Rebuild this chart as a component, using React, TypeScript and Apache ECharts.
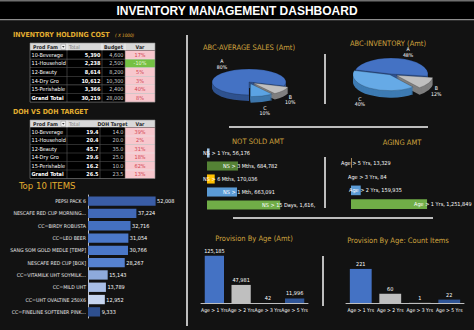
import React, { useEffect, useRef } from "react";
import * as echarts from "echarts";

const FONT = "'Liberation Sans Narrow', 'DejaVu Sans Condensed', Roboto, sans-serif";
const GOLD = "#e3ae30";
const GOLD2 = "#cda23e";

// ---------- tables ----------
const costHeaders = ["Prod Fam", "Total", "Budget", "Var"];
const costFam = ["10-Beverage", "11-Household", "12-Beauty", "14-Dry Gro", "15-Perishable", "Grand Total"];
const costTotal = [5390, 2238, 8614, 10612, 3366, 30219];
const costBudget = [4600, 2500, 8200, 10300, 2400, 28000];
const costVar = ["17%", "-10%", "5%", "3%", "40%", "8%"];

const dohHeaders = ["Prod Fam", "Total", "DOH Target", "Var"];
const dohFam = ["10-Beverage", "11-Household", "12-Beauty", "14-Dry Gro", "15-Perishable", "Grand Total"];
const dohTotal = [19.4, 20.4, 45.7, 29.6, 16.2, 26.5];
const dohTarget = [14.0, 20.0, 35.0, 25.0, 10.0, 23.5];
const dohVar = ["39%", "2%", "31%", "18%", "62%", "13%"];

// ---------- top 10 ----------
const topItems = [
  "PEPSI PACK 6",
  "NESCAFE RED CUP MORNING...",
  "CC=BIRDY ROBUSTA",
  "CC=LEO BEER",
  "SANG SOM GOLD MEDLE [TEMP]",
  "NESCAFE RED CUP [BOX]",
  "CC=VITAMILK UHT SOYMILK...",
  "CC=MILD UHT",
  "CC=UHT OVALTINE 250X6",
  "CC=FINELINE SOFTENER PINK...",
];
const topValues = [52008, 37224, 32716, 31054, 30766, 28267, 15143, 13789, 12952, 9333];
const topColors = ["#3a5da6", "#4169b8", "#4470c0", "#4b78c9", "#4b78c9", "#5682d0", "#8eaadb", "#a8bee6", "#c6d5ef", "#2e4f8e"];

// ---------- pies ----------
const abcNames = ["A", "B", "C"];
const salesPct = [80, 10, 10];
const invPct = [48, 12, 40];

// ---------- not sold ----------
const nsCats = ["NS > 1 Yrs", "NS > 3 Mths", "NS > 6 Mths", "NS > 1 Mth", "NS > 15 Days"];
const nsValues = [56176, 684782, 170036, 663091, 1616450];
const nsColors = ["#9dc3e6", "#548235", "#ffc000", "#5b9bd5", "#70ad47"];
const nsLabelDx = [-4, 16, -4, 16, 55];

// ---------- aging ----------
const agCats = ["Age > 5 Yrs", "Age > 3 Yrs", "Age > 2 Yrs", "Age > 1 Yrs"];
const agValues = [13329, 84, 159935, 1251849];
const agColors = ["#c6a26a", "#d8b25a", "#5b9bd5", "#70ad47"];
const agLabelDx = [-10, -3, -2, 63];

// ---------- provision ----------
const provCats = ["Age > 1 Yrs", "Age > 2 Yrs", "Age > 3 Yrs", "Age > 5 Yrs"];
const provAmt = [125185, 47981, 42, 11996];
const provCnt = [221, 60, 1, 22];
const provColors = ["#4472c4", "#bfbfbf", "#a5a5a5", "#2f5597"];

const fmt = (v: number) => v.toLocaleString("en-US");

function txt(x: number, y: number, text: string, o: any = {}) {
  return {
    type: "text",
    x,
    y,
    style: {
      text,
      fill: o.fill || "#fff",
      fontSize: o.size || 5.5,
      fontWeight: o.bold ? "bold" : "normal",
      fontStyle: o.italic ? "italic" : "normal",
      fontFamily: o.font || FONT,
      align: o.align || "left",
      verticalAlign: "middle",
    },
    z: 5,
  };
}
function rect(x: number, y: number, w: number, h: number, fill: string, extra: any = {}) {
  return { type: "rect", shape: { x, y, width: w, height: h }, style: { fill, ...extra }, z: 1 };
}

function buildTable(xs: number[], y0: number, hh: number, rh: number, hdr: string[], c0: string[], c1: string[], c2: string[], c3: string[]) {
  const els: any[] = [];
  const L = xs[0], R = xs[4];
  const n = c0.length;
  const top = y0 + hh;
  const bottom = top + rh * n;
  els.push(rect(L, y0, R - L, hh, "#d9d9d9"));
  els.push(rect(L, top, R - L, rh * n, "#000"));
  for (let r = 0; r < n; r++) {
    const neg = c3[r].startsWith("-");
    els.push(rect(xs[3], top + rh * r, R - xs[3], rh, neg ? "#74c043" : "#f7c7cd"));
  }
  for (let r = 1; r < n; r++) els.push(rect(L, top + rh * r - 0.3, xs[3] - L, 0.6, "#5a5a5a"));
  for (let r = 1; r < n; r++) els.push(rect(xs[3], top + rh * r - 0.3, R - xs[3], 0.6, "#e8e8e8"));
  for (let c = 1; c < 4; c++) {
    els.push(rect(xs[c] - 0.3, y0, 0.6, hh, "#ffffff"));
    els.push(rect(xs[c] - 0.3, top, 0.6, rh * n, "#5a5a5a"));
  }
  els.push({ type: "rect", shape: { x: L, y: y0, width: R - L, height: bottom - y0 }, style: { fill: "none", stroke: "#8c8c8c", lineWidth: 0.6 }, z: 2 });
  const hy = y0 + hh / 2;
  els.push(txt((xs[0] + xs[1]) / 2 - 3, hy, hdr[0], { fill: "#262626", bold: true, align: "center", size: 5.2 }));
  els.push(rect(xs[1] - 6, y0 + 1.2, 4.6, hh - 2.4, "#f4f4f4", { stroke: "#808080", lineWidth: 0.4 }));
  els.push({ type: "polygon", shape: { points: [[xs[1] - 5, y0 + hh / 2 - 0.8], [xs[1] - 2.4, y0 + hh / 2 - 0.8], [xs[1] - 3.7, y0 + hh / 2 + 0.9]] }, style: { fill: "#404040" }, z: 3 });
  els.push(txt(xs[1] + 2, hy, hdr[1], { fill: "#808080", size: 5.2 }));
  els.push(txt((xs[2] + xs[3]) / 2, hy, hdr[2], { fill: "#262626", bold: true, align: "center", size: 5.2 }));
  els.push(txt((xs[3] + xs[4]) / 2, hy, hdr[3], { fill: "#262626", bold: true, align: "center", size: 5.2 }));
  for (let r = 0; r < n; r++) {
    const y = top + rh * (r + 0.5);
    const neg = c3[r].startsWith("-");
    els.push(txt(xs[0] + 1.5, y, c0[r], { bold: r === n - 1 }));
    els.push(txt(xs[2] - 1.5, y, c1[r], { align: "right", bold: true }));
    els.push(txt(xs[3] - 1.5, y, c2[r], { align: "right", fill: "#cfcfcf" }));
    els.push(txt((xs[3] + xs[4]) / 2, y, c3[r], { align: "center", fill: neg ? "#e8f5dc" : "#d2424f" }));
  }
  return els;
}

function pieSeries(values: number[], names: string[], tops: string[], sides: string[], explode: number[], cfg: any) {
  const total = values.reduce((a, b) => a + b, 0);
  return {
    type: "custom",
    coordinateSystem: "none",
    silent: true,
    data: values,
    renderItem: (params: any, api: any) => {
      const i = params.dataIndex;
      const v = api.value(0);
      let acc = 0;
      for (let k = 0; k < i; k++) acc += values[k];
      const a0 = cfg.start + (acc / total) * Math.PI * 2;
      const a1 = a0 + (v / total) * Math.PI * 2;
      const mid = (a0 + a1) / 2;
      const s = cfg.ry / cfg.rx;
      const ox = cfg.cx + Math.cos(mid) * explode[i];
      const oy = cfg.cy + Math.sin(mid) * explode[i] * s;
      const lx = ox + Math.cos(mid) * (cfg.rx + 9) + (cfg.ldx ? cfg.ldx[i] : 0);
      const ly = oy + Math.sin(mid) * (cfg.ry + 9) + Math.max(0, Math.sin(mid)) * cfg.depth + (cfg.ldy ? cfg.ldy[i] : 0);
      const children: any[] = [];
      for (let d = cfg.depth; d > 0; d -= 1) {
        children.push({
          type: "sector",
          shape: { cx: 0, cy: d / s, r: cfg.rx, startAngle: a0, endAngle: a1 },
          style: { fill: sides[i] },
          z2: 1,
        });
      }
      children.push({
        type: "sector",
        shape: { cx: 0, cy: 0, r: cfg.rx, startAngle: a0, endAngle: a1 },
        style: { fill: tops[i], stroke: "rgba(0,0,0,0.35)", lineWidth: 0.8 },
        z2: 5,
      });
      return {
        type: "group",
        children: [
          { type: "group", x: ox, y: oy, scaleY: s, children },
          {
            type: "text",
            x: lx,
            y: ly,
            z2: 10,
            style: {
              text: names[i] + "\n" + v + "%",
              fill: "#fff",
              fontSize: 5.2,
              lineHeight: 5.6,
              fontFamily: FONT,
              align: "center",
              verticalAlign: "middle",
            },
          },
        ],
      };
    },
  };
}

export default function App() {
  const ref = useRef<HTMLDivElement>(null);
  useEffect(() => {
    if (!ref.current) return;
    const chart = echarts.init(ref.current, undefined, { renderer: "svg" });

    const graphics: any[] = [
      rect(0, 0, 474, 19, "#000"),
      rect(0, 0, 474, 1.5, "#6e6e6e"),
      rect(0, 19, 474, 1.2, "#8c8c8c"),
      txt(237, 10.5, "INVENTORY MANAGEMENT DASHBOARD", { size: 12, bold: true, align: "center", font: "'Liberation Sans', Arial, sans-serif" }),
      txt(13, 35, "INVENTORY HOLDING COST", { size: 7, bold: true, fill: GOLD }),
      txt(115, 35.5, "( X 1000)", { size: 4.6, italic: true, fill: GOLD }),
      txt(13, 111.5, "DOH VS DOH TARGET", { size: 7, bold: true, fill: GOLD }),
      txt(19, 185, "Top 10 ITEMS", { size: 9.5, fill: GOLD }),
      // separators
      rect(186, 35, 2, 291, "#bdbdbd"),
      rect(324, 54, 2, 50, "#bdbdbd"),
      rect(229, 126, 199, 2, "#bdbdbd"),
      rect(324, 157, 2, 51, "#bdbdbd"),
      rect(233, 217, 200, 2, "#bdbdbd"),
      rect(322, 256, 2, 50, "#bdbdbd"),
      // chart titles
      txt(249, 47, "ABC-AVERAGE SALES (Amt)", { size: 7.5, fill: GOLD2, align: "center" }),
      txt(388, 43, "ABC-INVENTORY (Amt)", { size: 7.5, fill: GOLD2, align: "center" }),
      txt(258, 141, "NOT SOLD AMT", { size: 7.5, fill: GOLD2, align: "center" }),
      txt(402, 142, "AGING AMT", { size: 7.5, fill: GOLD2, align: "center" }),
      txt(254, 238, "Provision By Age (Amt)", { size: 7.5, fill: GOLD2, align: "center" }),
      txt(398, 240, "Provision By Age: Count Items", { size: 7.5, fill: GOLD2, align: "center" }),
      ...buildTable(
        [30, 67, 102, 125, 155], 43, 7.5, 8.6, costHeaders, costFam,
        costTotal.map(fmt), costBudget.map(fmt), costVar
      ),
      ...buildTable(
        [30, 67, 100, 125, 155], 120, 7.5, 8.5, dohHeaders, dohFam,
        dohTotal.map((v) => v.toFixed(1)), dohTarget.map((v) => v.toFixed(1)), dohVar
      ),
    ];

    const barLabel = { show: true, color: "#fff", fontSize: 5.5, fontFamily: FONT };
    const catAxisLabel = { color: "#fff", fontSize: 5, margin: 4, interval: 0, hideOverlap: false };

    chart.setOption({
      animation: false,
      backgroundColor: "#121212",
      textStyle: { fontFamily: FONT },
      graphic: { elements: graphics },
      grid: [
        { left: 88, top: 195, width: 78, height: 123 },
        { left: 207, top: 146.5, width: 77, height: 65 },
        { left: 351, top: 156, width: 79, height: 55 },
        { left: 201, top: 254, width: 107, height: 49 },
        { left: 346, top: 266, width: 118, height: 37 },
      ],
      xAxis: [
        { type: "value", gridIndex: 0, min: 0, max: 60000, show: false },
        { type: "value", gridIndex: 1, min: 0, max: 1700000, show: false },
        { type: "value", gridIndex: 2, min: 0, max: 1300000, show: false },
        {
          type: "category", gridIndex: 3, data: provCats,
          axisLine: { lineStyle: { color: "#bfbfbf" } }, axisTick: { show: false },
          axisLabel: catAxisLabel,
        },
        {
          type: "category", gridIndex: 4, data: provCats,
          axisLine: { lineStyle: { color: "#bfbfbf" } }, axisTick: { show: false },
          axisLabel: catAxisLabel,
        },
      ],
      yAxis: [
        {
          type: "category", gridIndex: 0, data: topItems, inverse: true,
          axisLine: { lineStyle: { color: "#bfbfbf" } }, axisTick: { show: false },
          axisLabel: { color: "#e6e6e6", fontSize: 5.2, margin: 2, interval: 0, hideOverlap: false },
        },
        { type: "category", gridIndex: 1, data: nsCats, inverse: true, show: false },
        { type: "category", gridIndex: 2, data: agCats, inverse: true, show: false },
        { type: "value", gridIndex: 3, min: 0, max: 130000, show: false },
        { type: "value", gridIndex: 4, min: 0, max: 240, show: false },
      ],
      series: [
        {
          type: "bar", xAxisIndex: 0, yAxisIndex: 0, barWidth: "76%",
          data: topValues.map((v, i) => ({ value: v, itemStyle: { color: topColors[i] } })),
          label: { ...barLabel, position: "right", distance: 1.5, formatter: (p: any) => fmt(p.value) },
        },
        {
          type: "bar", xAxisIndex: 1, yAxisIndex: 1, barWidth: "70%",
          data: nsValues.map((v, i) => ({
            value: v,
            itemStyle: { color: nsColors[i] },
            label: i === nsValues.length - 1
              ? { position: [nsLabelDx[i], "50%"], width: 56, overflow: "truncate", ellipsis: "" }
              : { position: [nsLabelDx[i], "50%"] },
          })),
          label: {
            ...barLabel, align: "left", verticalAlign: "middle",
            formatter: (p: any) => `${nsCats[p.dataIndex]}, ${fmt(p.value)}`,
          },
        },
        {
          type: "bar", xAxisIndex: 2, yAxisIndex: 2, barWidth: "70%",
          data: agValues.map((v, i) => ({
            value: v,
            itemStyle: { color: agColors[i] },
            label: { position: [agLabelDx[i], "50%"] },
          })),
          label: {
            ...barLabel, align: "left", verticalAlign: "middle",
            formatter: (p: any) => `${agCats[p.dataIndex]}, ${fmt(p.value)}`,
          },
        },
        {
          type: "bar", xAxisIndex: 3, yAxisIndex: 3, barWidth: "72%",
          data: provAmt.map((v, i) => ({ value: v, itemStyle: { color: provColors[i] } })),
          label: { ...barLabel, position: "top", distance: 2, formatter: (p: any) => fmt(p.value) },
        },
        {
          type: "bar", xAxisIndex: 4, yAxisIndex: 4, barWidth: "74%",
          data: provCnt.map((v, i) => ({ value: v, itemStyle: { color: provColors[i] } })),
          label: { ...barLabel, position: "top", distance: 2, formatter: (p: any) => fmt(p.value) },
        },
        pieSeries(salesPct, abcNames, ["#4472c4", "#bfbfbf", "#5ba3e3"], ["#2f528f", "#7f7f7f", "#3d76ab"], [0, 5, 5],
          { cx: 249, cy: 82, rx: 37, ry: 13, depth: 6, start: Math.PI / 2 }),
        pieSeries(invPct, abcNames, ["#4472c4", "#bfbfbf", "#66aae6"], ["#2f528f", "#7f7f7f", "#3d7bb3"], [0, 6, 2],
          { cx: 391, cy: 74, rx: 37, ry: 16, depth: 7, start: (195 / 180) * Math.PI, ldx: [8, 0, -5], ldy: [2.5, 0, 0] }),
      ],
    });
    return () => chart.dispose();
  }, []);
  return <div ref={ref} style={{ position: "absolute", left: 0, top: 0, width: 474, height: 330 }} />;
}
